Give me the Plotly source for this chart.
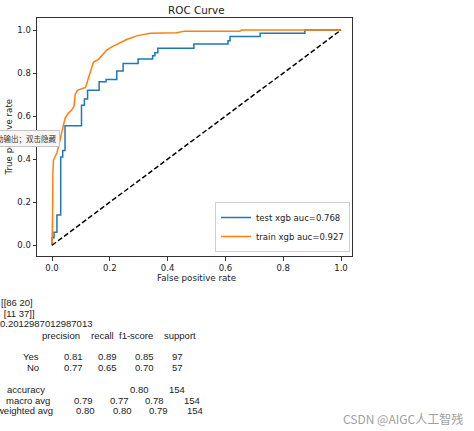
import plotly.graph_objects as go

# ROC points
fpr_test = [0, 0, 0.007, 0.007, 0.017, 0.017, 0.03, 0.03, 0.037, 0.037, 0.045, 0.045,
            0.102, 0.102, 0.112, 0.112, 0.123, 0.123, 0.163, 0.163, 0.187, 0.187,
            0.224, 0.224, 0.246, 0.246, 0.298, 0.298, 0.348, 0.348, 0.356, 0.356,
            0.366, 0.366, 0.491, 0.491, 0.609, 0.609, 0.616, 0.616, 0.72, 0.72,
            0.875, 0.875, 1.0]
tpr_test = [0, 0.035, 0.035, 0.06, 0.06, 0.14, 0.14, 0.41, 0.41, 0.44, 0.44, 0.555,
            0.555, 0.65, 0.65, 0.68, 0.68, 0.72, 0.72, 0.76, 0.76, 0.77, 0.77, 0.81,
            0.81, 0.845, 0.845, 0.865, 0.865, 0.88, 0.88, 0.895, 0.895, 0.915, 0.915,
            0.935, 0.935, 0.95, 0.95, 0.97, 0.97, 0.985, 0.985, 1.0, 1.0]

fpr_train = [0, 0, 0.002, 0.003, 0.005, 0.01, 0.017, 0.022, 0.028, 0.034, 0.037, 0.045,
             0.056, 0.068, 0.076, 0.08, 0.088, 0.103, 0.116, 0.129, 0.143, 0.162,
             0.178, 0.189, 0.207, 0.235, 0.258, 0.293, 0.339, 0.43, 0.46, 0.65,
             0.655, 1.0]
tpr_train = [0, 0.05, 0.16, 0.33, 0.395, 0.41, 0.43, 0.457, 0.49, 0.535, 0.55, 0.59,
             0.613, 0.628, 0.645, 0.70, 0.72, 0.727, 0.733, 0.79, 0.85, 0.865, 0.89,
             0.907, 0.922, 0.942, 0.956, 0.973, 0.985, 0.988, 0.995, 0.995, 1.0, 1.0]

auc_test = 0.768
auc_train = 0.927
diag = [0, 1]
ticks = [0.0, 0.2, 0.4, 0.6, 0.8, 1.0]

# printed output under the chart
conf_matrix = [[86, 20], [11, 37]]
error_rate = 0.2012987012987013
report_cols = ["precision", "recall", "f1-score", "support"]
class_names = ["Yes", "No"]
class_precision = [0.81, 0.77]
class_recall = [0.89, 0.65]
class_f1 = [0.85, 0.70]
class_support = [97, 57]
accuracy = 0.80
total_support = 154
macro_avg = [0.79, 0.77, 0.78]
weighted_avg = [0.80, 0.80, 0.79]

W, H = 474, 431
L, R, T, B = 37, 352, 18, 256   # plot area in pixels


def px(x):
    return (x - L) / (R - L)


def py(y):
    return (B - y) / (B - T)


fig = go.Figure()
fig.add_trace(go.Scatter(x=fpr_test, y=tpr_test, mode="lines",
                         line=dict(color="#1f77b4", width=1.5),
                         name="test xgb auc=%.3f" % auc_test))
fig.add_trace(go.Scatter(x=fpr_train, y=tpr_train, mode="lines",
                         line=dict(color="#ff7f0e", width=1.5),
                         name="train xgb auc=%.3f" % auc_train))
fig.add_trace(go.Scatter(x=diag, y=diag, mode="lines", showlegend=False,
                         line=dict(color="black", width=1.5, dash="5px,2.5px")))

axis_common = dict(showgrid=False, zeroline=False, showline=True, mirror=True,
                   linecolor="#333", linewidth=1, ticks="outside", ticklen=3.5,
                   tickcolor="#333", tickvals=ticks, tickformat=".1f",
                   tickfont=dict(family="DejaVu Sans", size=8.5, color="#222"))
fig.update_xaxes(range=[-0.052, 1.038], **axis_common)
fig.update_yaxes(range=[-0.05, 1.056], **axis_common)

mpl_font = dict(family="DejaVu Sans", size=8.7, color="#222")
out_font = dict(family="Liberation Sans", size=9.5, color="#222")

ann = []
ann.append(dict(x=px(196), y=py(10), text="ROC Curve",
                font=dict(family="DejaVu Sans", size=10.4, color="#222")))
ann.append(dict(x=px(196), y=py(277.5), text="False positive rate", font=mpl_font))
ann.append(dict(x=px(8.5), y=py(137), text="True positive rate", textangle=-90,
                font=mpl_font))

# matrix + error rate lines
ann.append(dict(x=px(-1.5), y=py(302.5), xanchor="left",
                text="[" + str(conf_matrix[0]).replace(",", ""), font=out_font))
ann.append(dict(x=px(-1.5), y=py(313.3), xanchor="left",
                text="\u00a0" + str(conf_matrix[1]).replace(",", "") + "]", font=out_font))
ann.append(dict(x=px(-2), y=py(323.5), xanchor="left",
                text=repr(error_rate), font=out_font))

# classification report, placed cell by cell
for name, xl in zip(report_cols, [40, 89, 117, 162]):
    ann.append(dict(x=px(xl), y=py(335), xanchor="left", text=name, font=out_font))

for i, yy in enumerate([356.7, 367.7]):
    ann.append(dict(x=px(40.5), y=py(yy), xanchor="right", text=class_names[i], font=out_font))
    vals = [class_precision[i], class_recall[i], class_f1[i]]
    for v, xl in zip(vals, [62, 96, 133]):
        ann.append(dict(x=px(xl), y=py(yy), xanchor="left", text="%.2f" % v, font=out_font))
    ann.append(dict(x=px(185), y=py(yy), xanchor="right", text=str(class_support[i]),
                    font=out_font))

ann.append(dict(x=px(47), y=py(389.3), xanchor="right", text="accuracy", font=out_font))
ann.append(dict(x=px(128), y=py(389.3), xanchor="left", text="%.2f" % accuracy, font=out_font))
ann.append(dict(x=px(167), y=py(389.3), xanchor="left", text=str(total_support), font=out_font))

for label, vals, yy, xr, cols, xs in [
        ("macro avg", macro_avg, 400, 52, [72, 108, 143], 182),
        ("weighted avg", weighted_avg, 410.7, 55, [74, 111, 147], 185)]:
    ann.append(dict(x=px(xr), y=py(yy), xanchor="right", text=label, font=out_font))
    for v, xl in zip(vals, cols):
        ann.append(dict(x=px(xl), y=py(yy), xanchor="left", text="%.2f" % v, font=out_font))
    ann.append(dict(x=px(xs), y=py(yy), xanchor="left", text=str(total_support), font=out_font))

# jupyter tooltip overlay and watermark
ann.append(dict(x=px(60), y=py(138.5), xanchor="right", text="动输出；双击隐藏",
                font=dict(family="Noto Sans CJK SC", size=7.5, color="#333"),
                bgcolor="#f6f6f6", bordercolor="#c4c4c4", borderwidth=1, borderpad=2))
ann.append(dict(x=px(465), y=py(418), xanchor="right", text="CSDN @AIGC人工智残",
                font=dict(family="Noto Sans CJK SC", size=12, color="#a0a0a0")))

for a in ann:
    a.setdefault("xref", "paper")
    a.setdefault("yref", "paper")
    a.setdefault("xanchor", "center")
    a.setdefault("yanchor", "middle")
    a.setdefault("showarrow", False)

fig.update_layout(
    width=W, height=H,
    margin=dict(l=L, r=W - R, t=T, b=H - B),
    paper_bgcolor="white", plot_bgcolor="white",
    showlegend=True,
    legend=dict(x=px(350), y=py(252), xanchor="right", yanchor="bottom",
                bgcolor="white", bordercolor="#d0d0d0", borderwidth=1,
                font=dict(family="DejaVu Sans", size=8.5, color="#222"),
                itemwidth=30, tracegroupgap=0),
    annotations=ann,
)

# page body has a default 8px margin; drop it so the figure sits at the window corner
fig.write_html("out.html", config={"displayModeBar": False},
               post_script="document.body.style.margin='0';")
